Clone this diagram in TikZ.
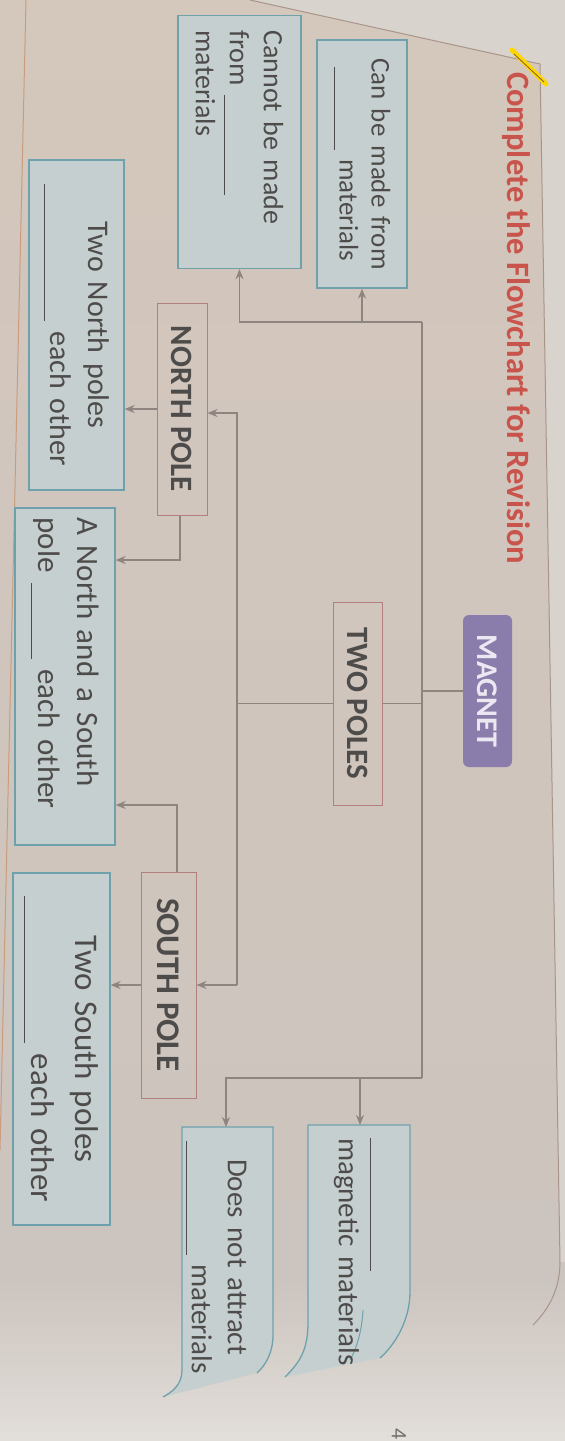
\documentclass[tikz,border=0pt]{standalone}
\usepackage{fontspec}
\setmainfont{Carlito}
\usetikzlibrary{arrows.meta,calc}
\definecolor{bgtop}{HTML}{D4C7BC}
\definecolor{bgmid}{HTML}{CCC4BE}
\definecolor{bgbot}{HTML}{E2DEDA}
\definecolor{bgout}{HTML}{D9D3CE}
\definecolor{boxfill}{HTML}{C6CFCF}
\definecolor{boxline}{HTML}{6FA1AC}
\definecolor{poleline}{HTML}{B47E7C}
\definecolor{connc}{HTML}{8F8580}
\definecolor{magfill}{HTML}{8A7CAB}
\definecolor{magtext}{HTML}{ECE8F2}
\definecolor{titlered}{HTML}{C9544C}
\definecolor{txt}{HTML}{4E4C4B}
\definecolor{framec}{HTML}{A8958A}
\definecolor{frameo}{HTML}{C99C80}
\newcommand\fillblank[1]{\rule[-0.22em]{#1pt}{1pt}}
\begin{document}
\begin{tikzpicture}[x=1pt,y=-1pt,
  infobox/.style={rotate=-90, draw=boxline, line width=1.3pt, fill=boxfill, inner sep=0pt, text=txt},
  infotext/.style={rotate=-90, inner sep=0pt, text=txt},
  polebox/.style={rotate=-90, draw=poleline, line width=1pt, text=txt, inner sep=0pt, font=\fontsize{31}{37}\selectfont\bfseries},
  connl/.style={draw=connc, line width=1.4pt},
  arr/.style={connl, -{Stealth[length=10pt,width=8pt]}},
  edgel/.style={draw=boxline, line width=1.3pt},
]
\clip (0,0) rectangle (565,1441);
% background
\shade[top color=bgtop, bottom color=bgmid] (0,0) rectangle (565,1280);
\shade[top color=bgmid, bottom color=bgbot] (0,1280) rectangle (565,1441);
\fill[bgout] (250,0) -- (540,64) -- (560,1262) -- (565,1262) -- (565,0) -- cycle;
% frame
\draw[framec, line width=1pt] (250,0) -- (540,64) -- (560,1262) .. controls (560,1290) and (548,1310) .. (533,1325);
\draw[frameo, line width=1pt] (26,0) -- (0,1150);
% tick mark
\draw[yellow!75!orange, line width=5pt, line cap=round] (512,50) -- (546,84);
\draw[brown!70!black, line width=0.8pt] (514,54) -- (544,82);
% title
\node[rotate=-90, anchor=west, inner sep=0pt, text=titlered, font=\fontsize{32.6}{38}\selectfont\bfseries] (title) at (516,72) {Complete the Flowchart for Revision};

% main nodes
\node[rotate=-90, fill=magfill, rounded corners=6pt, minimum width=152pt, minimum height=49pt, inner sep=0pt, text=magtext, font=\fontsize{30}{36}\selectfont\bfseries] (magnet) at (487.5,691) {MAGNET};
\node[polebox, minimum width=203pt, minimum height=49pt] (twopoles) at (357.5,703.5) {TWO POLES};
\node[polebox, minimum width=212pt, minimum height=50pt] (northpole) at (182,409) {NORTH POLE};
\node[polebox, minimum width=226pt, minimum height=55pt, font=\fontsize{33}{39}\selectfont\bfseries] (southpole) at (168.5,985) {SOUTH POLE};

\node[infobox, minimum width=248pt, minimum height=90pt, text width=232pt, align=center, font=\fontsize{27}{32}\selectfont] (cbm) at (362,164) {Can be made from\\\fillblank{83} materials};
\node[infobox, minimum width=253pt, minimum height=123pt, text width=223pt, align=left, font=\fontsize{28}{34}\selectfont] (cnm) at (239.5,142) {Cannot be made\\from \fillblank{100}\\materials};
\node[infobox, minimum width=330pt, minimum height=95pt, text width=300pt, align=center, font=\fontsize{30}{38}\selectfont] (twonorth) at (76.5,325) {Two North poles\\\fillblank{137} each other};
\node[infobox, minimum width=337pt, minimum height=100pt, text width=318pt, align=left, font=\fontsize{31}{39}\selectfont] (northsouth) at (65,676.5) {A North and a South\\pole \fillblank{76} each other};
\node[infobox, minimum width=352pt, minimum height=97pt, text width=320pt, align=center, font=\fontsize{33}{44}\selectfont] (twosouth) at (61.5,1049) {Two South poles\\\fillblank{147} each other};

% curled boxes at the bottom
\fill[boxfill] (308,1125) -- (410,1125) -- (410,1292) .. controls (410,1320) and (395,1345) .. (380,1358) -- (285,1377) .. controls (300,1362) and (308,1350) .. (308,1322) -- cycle;
\draw[edgel] (308,1322) -- (308,1125) -- (410,1125) -- (410,1292) .. controls (410,1320) and (395,1345) .. (380,1358);
\draw[edgel] (308,1322) .. controls (308,1350) and (300,1362) .. (285,1377);
\draw[edgel, line width=1pt] (363,1310) .. controls (362,1330) and (357,1348) .. (350,1360);
\node[infotext, minimum width=250pt, minimum height=103pt, text width=232pt, align=left, font=\fontsize{29}{37}\selectfont] (magmat) at (355,1254) {\fillblank{133}\\magnetic materials};

\fill[boxfill] (182,1127) -- (273,1127) -- (273,1335) .. controls (273,1352) and (266,1365) .. (257,1373) -- (163,1397) .. controls (172,1392) and (182,1385) .. (182,1370) -- cycle;
\draw[edgel] (182,1370) -- (182,1127) -- (273,1127) -- (273,1335) .. controls (273,1352) and (266,1365) .. (257,1373);
\draw[edgel] (182,1370) .. controls (182,1385) and (172,1392) .. (163,1397);
\node[infotext, minimum width=260pt, minimum height=91pt, text width=240pt, align=center, font=\fontsize{29}{36}\selectfont] (notattract) at (216,1257) {Does not attract\\\fillblank{114} materials};

\node[rotate=-90, inner sep=0pt, text=txt!80, font=\fontsize{22}{26}\selectfont] (pnum) at (399,1434) {4};

% connectors
\coordinate (tTop) at (422,322);
\coordinate (tBot) at (422,1078);
\coordinate (pTop) at (237,413);
\coordinate (pBot) at (237,985);
\coordinate (nsA) at (180,560);
\coordinate (nsB) at (177,805);
\coordinate (magTop) at (360,1125);
\coordinate (natTop) at (226,1127);

\draw[connl] (magnet.south) -- (magnet.south -| tTop);
\draw[connl] (twopoles.north) -- (twopoles.north -| tTop);
\draw[connl] (tTop) -- (tBot);
\draw[arr] (tTop) -- (cnm.east |- tTop) -- (cnm.east);
\draw[arr] (cbm.east |- tTop) -- (cbm.east);
\draw[arr] (tBot) -- (tBot -| natTop) -- (natTop);
\draw[arr] (tBot -| magTop) -- (magTop);

\draw[connl] (twopoles.south) -- (twopoles.south -| pTop);
\draw[arr] (pBot) -- (pTop) -- (pTop -| northpole.north);
\draw[arr] (pBot) -- (pBot -| southpole.north);

\draw[arr] (northpole.south) -- (northpole.south -| twonorth.north);
\draw[arr] (nsA |- northpole.east) -- (nsA) -- (nsA -| northsouth.north);
\draw[arr] (southpole.south) -- (southpole.south -| twosouth.north);
\draw[arr] (nsB |- southpole.west) -- (nsB) -- (nsB -| northsouth.north);
\end{tikzpicture}
\end{document}
